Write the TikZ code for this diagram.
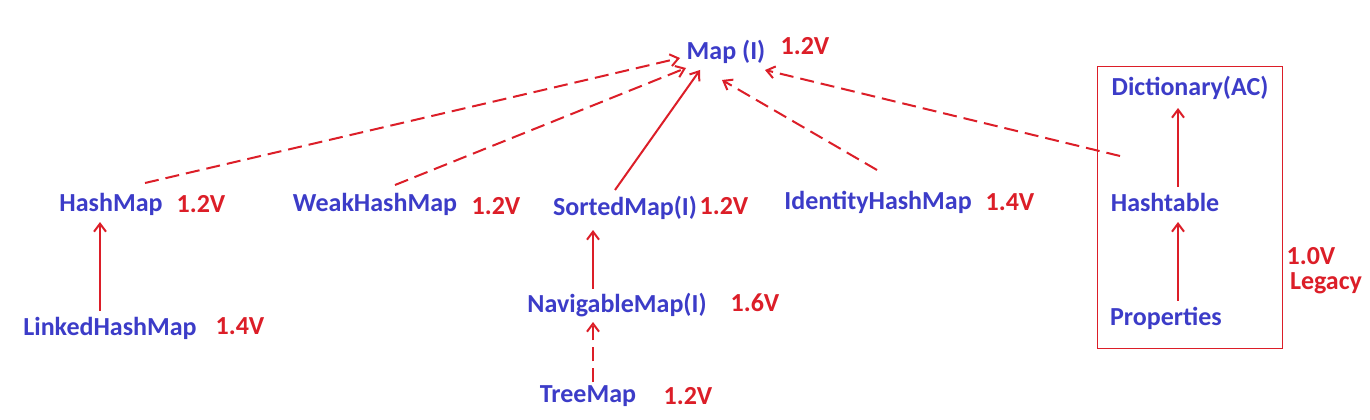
\documentclass[tikz,border=0pt]{standalone}
\usepackage{fontspec}
\setmainfont{Carlito}
\usetikzlibrary{arrows.meta}
\definecolor{tb}{RGB}{60,60,200}
\definecolor{tr}{RGB}{220,30,40}
\begin{document}
\begin{tikzpicture}[x=1pt,y=-1pt,
  lbl/.style={text=tb,font=\fontsize{26}{28}\selectfont\bfseries,inner sep=0pt,anchor=center},
  ver/.style={text=tr,font=\fontsize{26}{28}\selectfont\bfseries,inner sep=0pt,anchor=center},
  arr/.style={draw=tr,line width=2pt,-{Straight Barb[length=8pt,width=12pt]}},
  darr/.style={arr,dash pattern=on 14pt off 7pt}]
\useasboundingbox (0,0) rectangle (1370,420);
\fill[white] (0,0) rectangle (1370,420);
\node[lbl] (map) at (726,52) {Map (I)};
\node[ver] (mapv) at (805,46) {1.2V};
\node[lbl] (dict) at (1190,88) {Dictionary(AC)};
\node[lbl] (hm) at (111,204) {HashMap};
\node[ver] (hmv) at (201,204) {1.2V};
\node[lbl] (whm) at (375,204) {WeakHashMap};
\node[ver] (whmv) at (496,206) {1.2V};
\node[lbl] (sm) at (625,208) {SortedMap(I)};
\node[ver] (smv) at (724,206) {1.2V};
\node[lbl] (ihm) at (878,202) {IdentityHashMap};
\node[ver] (ihmv) at (1010,202) {1.4V};
\node[lbl] (ht) at (1165,202) {Hashtable};
\node[lbl] (lhm) at (110,328) {LinkedHashMap};
\node[ver] (lhmv) at (240,326) {1.4V};
\node[lbl] (nm) at (617,305) {NavigableMap(I)};
\node[ver] (nmv) at (755,303) {1.6V};
\node[lbl] (pr) at (1166,318) {Properties};
\node[lbl] (tm) at (588,396) {TreeMap};
\node[ver] (tmv) at (688,396) {1.2V};
\node[ver] (lv) at (1311,256) {1.0V};
\node[ver] (lg) at (1326,283) {Legacy};
\node[draw=tr,line width=0.8pt,minimum width=185pt,minimum height=282pt,inner sep=0pt] (box) at (1189.5,207) {};
\coordinate (a1) at (145,183); \coordinate (b1) at (680,58);
\coordinate (a2) at (395,185); \coordinate (b2) at (686,68);
\coordinate (a3) at (615,190); \coordinate (b3) at (700,70);
\coordinate (a4) at (877,170); \coordinate (b4) at (722,80);
\coordinate (a5) at (1120,156); \coordinate (b5) at (765,70);
\draw[darr] (a1) -- (b1);
\draw[darr] (a2) -- (b2);
\draw[arr] (a3) -- (b3);
\draw[darr] (a4) -- (b4);
\draw[darr] (a5) -- (b5);
\draw[arr] (ht.north -| 1178,0) ++(0,-6) -- (1178,108);
\draw[arr] (pr.north -| 1178,0) ++(0,-6) -- (1178,222);
\draw[arr] (lhm.north -| 100,0) ++(0,-6) -- (100,222);
\draw[arr] (nm.north -| 593,0) ++(0,-4) -- (593,230);
\draw[darr] (tm.north -| 593,0) ++(0,-3) -- (593,322);
\end{tikzpicture}
\end{document}
